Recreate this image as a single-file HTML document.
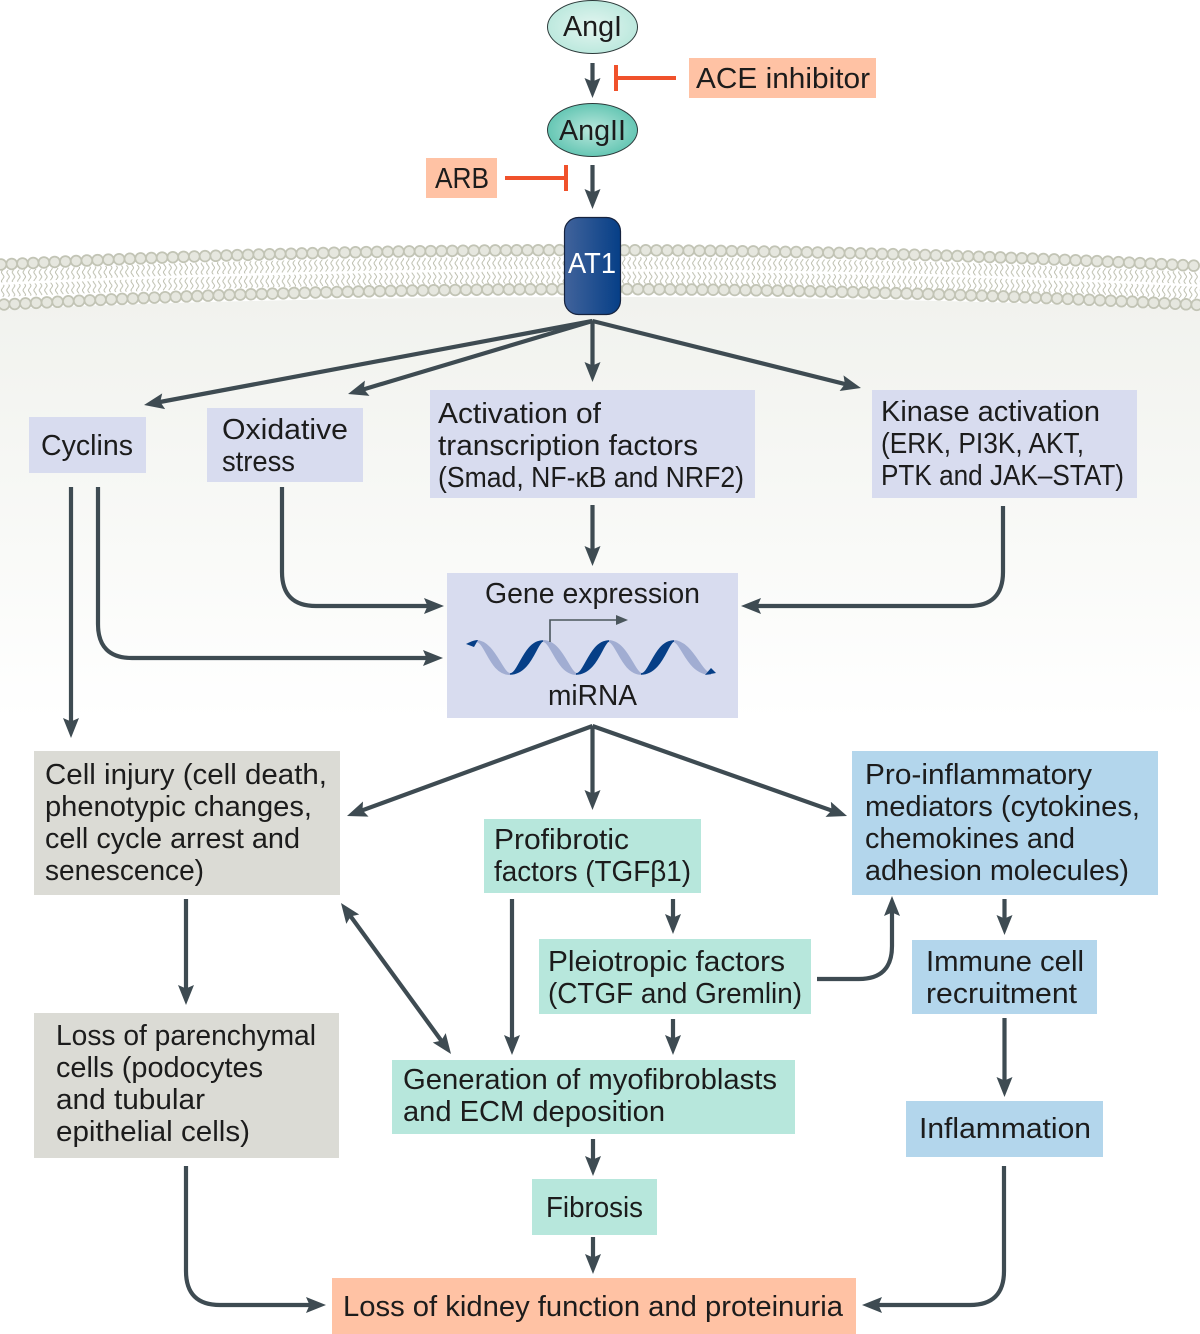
<!DOCTYPE html>
<html><head><meta charset="utf-8">
<style>
html,body{margin:0;padding:0;background:#fff}
svg{display:block}
text{font-family:"Liberation Sans",sans-serif;font-size:28.5px;fill:#1c1c1c}
</style></head>
<body>
<svg width="1200" height="1334" viewBox="0 0 1200 1334" xmlns="http://www.w3.org/2000/svg">
<defs>
<linearGradient id="bg" x1="0" y1="0" x2="0" y2="1"><stop offset="0" stop-color="#f1f2ee"/><stop offset="0.4" stop-color="#f6f7f4"/><stop offset="1" stop-color="#ffffff"/></linearGradient>
<radialGradient id="a1" cx="0.5" cy="0.5" r="0.6"><stop offset="0" stop-color="#e3f5f0"/><stop offset="1" stop-color="#b5e6da"/></radialGradient>
<radialGradient id="a2" cx="0.5" cy="0.5" r="0.6"><stop offset="0" stop-color="#b9e7dc"/><stop offset="1" stop-color="#55c0ac"/></radialGradient>
<linearGradient id="at" x1="0" y1="0" x2="1" y2="0"><stop offset="0" stop-color="#41639b"/><stop offset="1" stop-color="#063f87"/></linearGradient>
<marker id="h" markerUnits="userSpaceOnUse" markerWidth="26" markerHeight="20" refX="12" refY="9" orient="auto"><path d="M0 1L20 9L0 17L3.500 9Z" fill="#3e4b52"/></marker>
<marker id="hs" markerUnits="userSpaceOnUse" markerWidth="26" markerHeight="20" refX="12" refY="9" orient="auto-start-reverse"><path d="M0 1L20 9L0 17L3.500 9Z" fill="#3e4b52"/></marker>
<pattern id="tails" patternUnits="userSpaceOnUse" width="5.4" height="9">
<path d="M2.700 0C1 2.250 1 2.250 2.700 4.500C4.400 6.750 4.400 6.750 2.700 9" fill="none" stroke="#bcbeae" stroke-width="1"/>
</pattern>
</defs>

<!-- cytoplasm -->
<path d="M0 309Q592 285 1200 309V720H0Z" fill="url(#bg)"/>

<!-- membrane tails -->
<g fill="none" stroke="url(#tails)">
<path d="M0 276.500Q592 248.500 1200 278.500" stroke-width="12"/>
<path d="M0 291Q592 263 1200 293" stroke-width="12"/>
</g>
<!-- membrane heads -->
<g fill="none" stroke-linecap="round">
<path d="M1 264.500Q592 235 1200 266" stroke="#c2c4b5" stroke-width="12.500" stroke-dasharray="0 10.75"/>
<path d="M1 264.500Q592 235 1200 266" stroke="#e6e7df" stroke-width="9" stroke-dasharray="0 10.75"/>
<path d="M4 304.500Q592 273.500 1200 305" stroke="#c2c4b5" stroke-width="12.500" stroke-dasharray="0 10.75"/>
<path d="M4 304.500Q592 273.500 1200 305" stroke="#e6e7df" stroke-width="9" stroke-dasharray="0 10.75"/>
</g>

<!-- AT1 -->
<rect x="564.500" y="217.500" width="56" height="97" rx="14" fill="url(#at)" stroke="#16233f" stroke-width="1.200"/>
<text x="568" y="273" textLength="48" lengthAdjust="spacingAndGlyphs" style="fill:#fff">AT1</text>

<!-- ellipses -->
<ellipse cx="592.500" cy="27" rx="45" ry="26.500" fill="url(#a1)" stroke="#2c3a3a" stroke-width="1"/>
<text x="563" y="36" textLength="59" lengthAdjust="spacingAndGlyphs">AngI</text>
<ellipse cx="592.500" cy="130" rx="45" ry="26.500" fill="url(#a2)" stroke="#2c3a3a" stroke-width="1"/>
<text x="559" y="140" textLength="67" lengthAdjust="spacingAndGlyphs">AngII</text>

<!-- boxes -->
<g>
<rect x="689" y="58" width="187" height="40" fill="#ffc2a4"/>
<rect x="426" y="158" width="71" height="40" fill="#ffc2a4"/>
<rect x="29" y="417" width="117" height="56" fill="#d8dcef"/>
<rect x="207" y="408" width="156" height="74" fill="#d8dcef"/>
<rect x="430" y="390" width="325" height="108" fill="#d8dcef"/>
<rect x="872" y="390" width="265" height="108" fill="#d8dcef"/>
<rect x="447" y="573" width="291" height="145" fill="#d8dcef"/>
<rect x="34" y="751" width="306" height="144" fill="#dbdbd5"/>
<rect x="852" y="751" width="306" height="144" fill="#b3d6ec"/>
<rect x="484" y="819" width="217" height="74" fill="#b7e7dc"/>
<rect x="539" y="939" width="272" height="75" fill="#b7e7dc"/>
<rect x="912" y="940" width="185" height="74" fill="#b3d6ec"/>
<rect x="34" y="1013" width="305" height="145" fill="#dbdbd5"/>
<rect x="392" y="1060" width="403" height="74" fill="#b7e7dc"/>
<rect x="906" y="1101" width="197" height="56" fill="#b3d6ec"/>
<rect x="532" y="1179" width="125" height="56" fill="#b7e7dc"/>
<rect x="332" y="1278" width="524" height="56" fill="#ffc2a4"/>
</g>

<!-- DNA ribbon -->
<g fill="#a1add2" stroke="#a1add2" stroke-width="2">
<path transform="translate(476 641)" d="M0 0C10 0 14 33 34 33C26 33 18 0 0 0Z"/>
<path transform="translate(543 641)" d="M0 0C9 0 14 33 34 33C26 33 19 0 0 0Z"/>
<path transform="translate(608 641)" d="M0 0C9 0 14 33 34 33C26 33 19 0 0 0Z"/>
<path transform="translate(673 641)" d="M0 0C9 0 14 33 38 33C28 33 19 0 0 0Z"/>
</g>
<path d="M466 644C470 642 474 640 478 640L474 647Z" fill="#063f87"/>
<g fill="#063f87" stroke="#063f87" stroke-width="1.500">
<path transform="translate(510 641)" d="M0 33C9 33 14 0 33 0C27 0 21 33 0 33Z"/>
<path transform="translate(576 641)" d="M0 33C9 33 14 0 33 0C27 0 21 33 0 33Z"/>
<path transform="translate(641 641)" d="M0 33C9 33 14 0 33 0C27 0 21 33 0 33Z"/>
</g>
<path d="M716 673L705 675L711 668Z" fill="#063f87"/>
<path d="M550 642V620H618" fill="none" stroke="#4a565c" stroke-width="1.600"/>
<path d="M616 615L628 620L616 625Z" fill="#4a565c"/>

<!-- inhibitors -->
<g stroke="#f0512b" stroke-width="4" fill="none">
<path d="M676 78H616M616 65V91"/>
<path d="M505 178H566M566 165V191"/>
</g>

<!-- arrows -->
<g fill="none" stroke="#3e4b52" stroke-width="4.200" marker-end="url(#h)">
<path d="M592.500 63V90"/>
<path d="M592.500 165V201"/>
<path d="M592.500 321L151.900 403.500"/>
<path d="M592.500 321L355.700 391.700"/>
<path d="M592.500 321V374"/>
<path d="M592.500 321L853.200 386.100"/>
<path d="M592.500 505V558"/>
<path d="M282 487V572Q282 606 316 606H436"/>
<path d="M98 487V624Q98 658 132 658H435"/>
<path d="M1003 506V572Q1003 606 969 606H749"/>
<path d="M71 487V730"/>
<path d="M592.500 726L354.500 813.200"/>
<path d="M592.500 726V802"/>
<path d="M592.500 726L839.500 813.300"/>
<path d="M186 899V997"/>
<path d="M512 899V1047"/>
<path d="M673 899V926"/>
<path d="M673 1019V1047"/>
<path d="M1004.500 899V927"/>
<path d="M1004.500 1018V1089"/>
<path d="M817 979H859Q892 979 892 946V904"/>
<path d="M593 1139V1168"/>
<path d="M593 1237V1266"/>
<path d="M186 1166V1271Q186 1305 220 1305H318"/>
<path d="M1004 1166V1271Q1004 1305 970 1305H870"/>
<path d="M345.700 909.500L446.300 1047.500" marker-start="url(#hs)"/>
</g>

<!-- text -->
<text x="696" y="88" textLength="174" lengthAdjust="spacingAndGlyphs">ACE inhibitor</text>
<text x="435" y="188" textLength="54" lengthAdjust="spacingAndGlyphs">ARB</text>
<text x="41" y="455" textLength="92" lengthAdjust="spacingAndGlyphs">Cyclins</text>
<text x="222" y="439" textLength="126" lengthAdjust="spacingAndGlyphs">Oxidative</text>
<text x="222" y="471" textLength="73" lengthAdjust="spacingAndGlyphs">stress</text>
<text x="438" y="423" textLength="163" lengthAdjust="spacingAndGlyphs">Activation of</text>
<text x="438" y="455" textLength="260" lengthAdjust="spacingAndGlyphs">transcription factors</text>
<text x="438" y="487" textLength="306" lengthAdjust="spacingAndGlyphs">(Smad, NF-κB and NRF2)</text>
<text x="881" y="421" textLength="219" lengthAdjust="spacingAndGlyphs">Kinase activation</text>
<text x="881" y="453" textLength="203" lengthAdjust="spacingAndGlyphs">(ERK, PI3K, AKT,</text>
<text x="881" y="485" textLength="243" lengthAdjust="spacingAndGlyphs">PTK and JAK–STAT)</text>
<text x="485" y="603" textLength="215" lengthAdjust="spacingAndGlyphs">Gene expression</text>
<text x="548" y="705" textLength="89" lengthAdjust="spacingAndGlyphs">miRNA</text>
<text x="45" y="784" textLength="282" lengthAdjust="spacingAndGlyphs">Cell injury (cell death,</text>
<text x="45" y="816" textLength="267" lengthAdjust="spacingAndGlyphs">phenotypic changes,</text>
<text x="45" y="848" textLength="255" lengthAdjust="spacingAndGlyphs">cell cycle arrest and</text>
<text x="45" y="880" textLength="159" lengthAdjust="spacingAndGlyphs">senescence)</text>
<text x="865" y="784" textLength="227" lengthAdjust="spacingAndGlyphs">Pro-inflammatory</text>
<text x="865" y="816" textLength="275" lengthAdjust="spacingAndGlyphs">mediators (cytokines,</text>
<text x="865" y="848" textLength="210" lengthAdjust="spacingAndGlyphs">chemokines and</text>
<text x="865" y="880" textLength="264" lengthAdjust="spacingAndGlyphs">adhesion molecules)</text>
<text x="494" y="849" textLength="135" lengthAdjust="spacingAndGlyphs">Profibrotic</text>
<text x="494" y="881" textLength="197" lengthAdjust="spacingAndGlyphs">factors (TGFβ1)</text>
<text x="548" y="971" textLength="237" lengthAdjust="spacingAndGlyphs">Pleiotropic factors</text>
<text x="548" y="1003" textLength="254" lengthAdjust="spacingAndGlyphs">(CTGF and Gremlin)</text>
<text x="926" y="971" textLength="158" lengthAdjust="spacingAndGlyphs">Immune cell</text>
<text x="926" y="1003" textLength="151" lengthAdjust="spacingAndGlyphs">recruitment</text>
<text x="56" y="1045" textLength="260" lengthAdjust="spacingAndGlyphs">Loss of parenchymal</text>
<text x="56" y="1077" textLength="207" lengthAdjust="spacingAndGlyphs">cells (podocytes</text>
<text x="56" y="1109" textLength="149" lengthAdjust="spacingAndGlyphs">and tubular</text>
<text x="56" y="1141" textLength="194" lengthAdjust="spacingAndGlyphs">epithelial cells)</text>
<text x="403" y="1089" textLength="374" lengthAdjust="spacingAndGlyphs">Generation of myofibroblasts</text>
<text x="403" y="1121" textLength="262" lengthAdjust="spacingAndGlyphs">and ECM deposition</text>
<text x="919" y="1138" textLength="172" lengthAdjust="spacingAndGlyphs">Inflammation</text>
<text x="546" y="1217" textLength="97" lengthAdjust="spacingAndGlyphs">Fibrosis</text>
<text x="343" y="1316" textLength="500" lengthAdjust="spacingAndGlyphs">Loss of kidney function and proteinuria</text>
</svg>
</body></html>
